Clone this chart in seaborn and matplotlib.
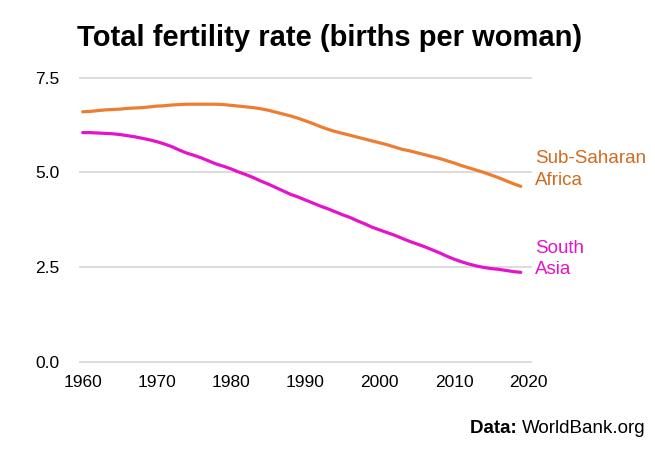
import pandas as pd
import matplotlib.pyplot as plt
import seaborn as sns

sns.set_style("white")
plt.rcParams['font.family'] = ['Liberation Sans', 'DejaVu Sans']
plt.rcParams['text.color'] = "#000000"

years = list(range(1960, 2020))

ssa = [6.60, 6.61, 6.63, 6.65, 6.66, 6.67, 6.69, 6.70, 6.71, 6.73,
       6.75, 6.76, 6.78, 6.79, 6.80, 6.80, 6.80, 6.80, 6.80, 6.79,
       6.77, 6.75, 6.73, 6.71, 6.68, 6.64, 6.59, 6.54, 6.49, 6.43,
       6.36, 6.29, 6.21, 6.14, 6.08, 6.03, 5.98, 5.93, 5.88, 5.83,
       5.78, 5.73, 5.67, 5.61, 5.57, 5.52, 5.47, 5.42, 5.37, 5.31,
       5.25, 5.18, 5.12, 5.06, 5.00, 4.93, 4.86, 4.78, 4.70, 4.63]

south_asia = [6.05, 6.05, 6.04, 6.03, 6.02, 6.00, 5.97, 5.94, 5.90, 5.86,
              5.81, 5.75, 5.68, 5.59, 5.51, 5.45, 5.38, 5.30, 5.22, 5.16,
              5.09, 5.01, 4.94, 4.86, 4.77, 4.69, 4.60, 4.51, 4.42, 4.35,
              4.27, 4.19, 4.11, 4.04, 3.96, 3.88, 3.81, 3.72, 3.64, 3.55,
              3.48, 3.41, 3.34, 3.26, 3.18, 3.11, 3.04, 2.96, 2.88, 2.79,
              2.71, 2.64, 2.58, 2.53, 2.49, 2.46, 2.44, 2.41, 2.38, 2.36]

regions = ["Sub-Saharan Africa", "South Asia"]
labels = ["Sub-Saharan\nAfrica", "South\nAsia"]
colors = ["#ED7D31", "#E414C8"]
label_colors = ["#D2691E", "#E414C8"]
y_ticks = [0.0, 2.5, 5.0, 7.5]
x_ticks = [1960, 1970, 1980, 1990, 2000, 2010, 2020]

df = pd.DataFrame({
    "year": years * 2,
    "rate": ssa + south_asia,
    "region": [regions[0]] * len(years) + [regions[1]] * len(years),
})

fig = plt.figure(figsize=(6.55, 4.5), dpi=100)
ax = fig.add_axes([0.1206, 0.192, 0.6915, 0.6395])

sns.lineplot(data=df, x="year", y="rate", hue="region",
             palette=dict(zip(regions, colors)), linewidth=2.3,
             legend=False, ax=ax)

ax.set_xlim(1959.5, 2020.5)
ax.set_ylim(-0.05, 7.55)
ax.set_yticks(y_ticks)
ax.set_yticklabels([f"{v:.1f}" for v in y_ticks])
ax.set_xticks(x_ticks)
ax.grid(axis="y", color="#D9D9D9", linewidth=1.3)
ax.grid(axis="x", visible=False)
ax.set_axisbelow(True)
for s in ax.spines.values():
    s.set_visible(False)
ax.tick_params(axis="both", length=0, labelsize=12.5, colors="#000000")
ax.tick_params(axis="y", pad=14)
ax.tick_params(axis="x", pad=8)
ax.set_xlabel("")
ax.set_ylabel("")

# end labels next to the last point of each line
for vals, lab, col, dy in zip([ssa, south_asia], labels, label_colors, [12, 9.5]):
    ax.annotate(lab, xy=(years[-1], vals[-1]), xytext=(10, dy),
                textcoords="offset points", color=col, fontsize=13.5,
                va="center", ha="left", linespacing=1.35, annotation_clip=False)

fig.text(0.503, 0.916, "Total fertility rate (births per woman)",
         ha="center", va="center", fontsize=21, fontweight="bold")

src = fig.text(0.985, 0.048, "WorldBank.org", ha="right", va="center",
               fontsize=13.5)
ax.annotate("Data: ", xy=(0, 0), xycoords=src, ha="right", va="bottom",
            fontsize=13.5, fontweight="bold", annotation_clip=False)

fig.savefig("out.png", dpi=100)
